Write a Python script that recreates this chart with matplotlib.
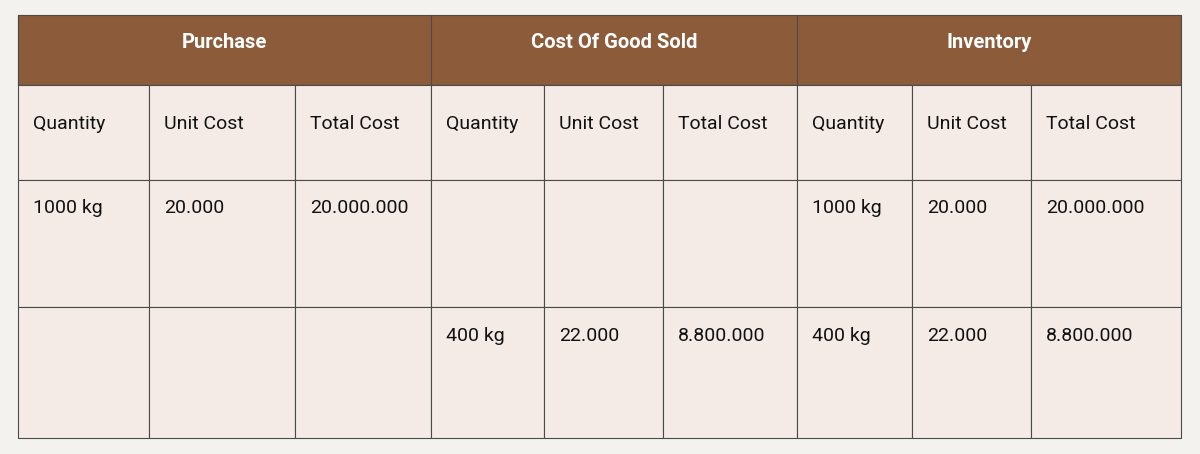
import matplotlib
matplotlib.use("Agg")
import matplotlib.pyplot as plt
from matplotlib.patches import Rectangle

groups = ["Purchase", "Cost Of Good Sold", "Inventory"]
subheaders = ["Quantity", "Unit Cost", "Total Cost"] * 3
rows = [
    ["1000 kg", "20.000", "20.000.000", "", "", "", "1000 kg", "20.000", "20.000.000"],
    ["", "", "", "400 kg", "22.000", "8.800.000", "400 kg", "22.000", "8.800.000"],
]

col_edges = [18, 149, 295, 431, 544, 663, 797, 912, 1031, 1181]
row_edges = [15, 85, 180, 307, 438]
text_off = [39, 28, 29]
bg = "#f3f2ee"; brown = "#8b5b3a"; cell = "#f4ebe6"; line = "#4a4a4a"

fig = plt.figure(figsize=(12, 4.54), dpi=100)
fig.patch.set_facecolor(bg)
ax = fig.add_axes([0, 0, 1, 1])
ax.set_xlim(0, 1200); ax.set_ylim(454, 0); ax.axis("off")
plt.rcParams['font.family'] = ['Roboto', 'DejaVu Sans']

ax.add_patch(Rectangle((col_edges[0], row_edges[0]), col_edges[-1]-col_edges[0],
                       row_edges[1]-row_edges[0], facecolor=brown, edgecolor=line, lw=0.8))
for g, name in enumerate(groups):
    x0, x1 = col_edges[3*g], col_edges[3*g+3]
    ax.plot([x0, x0], [row_edges[0], row_edges[1]], color=line, lw=0.8)
    ax.text((x0+x1)/2, 43, name, color="white",
            fontsize=14.5, fontweight="bold", ha="center", va="center")

body = [subheaders] + rows
for r, vals in enumerate(body):
    y0, y1 = row_edges[r+1], row_edges[r+2]
    for c, v in enumerate(vals):
        x0, x1 = col_edges[c], col_edges[c+1]
        ax.add_patch(Rectangle((x0, y0), x1-x0, y1-y0, facecolor=cell, edgecolor=line, lw=0.8))
        ax.text(x0+15, y0+text_off[r], v, fontsize=14, color="#111111", ha="left", va="center")

fig.savefig("out.png", dpi=100, facecolor=bg)
